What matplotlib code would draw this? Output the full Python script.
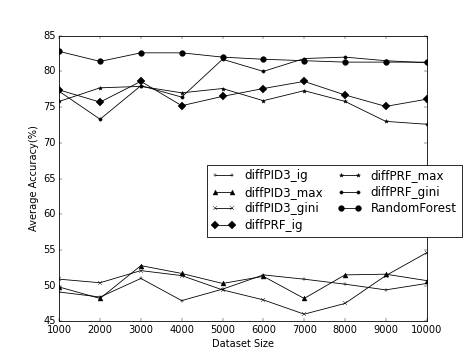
import matplotlib
matplotlib.use("Agg")
from matplotlib import pyplot as plt

sizes = [1000, 2000, 3000, 4000, 5000, 6000, 7000, 8000, 9000, 10000]

pid3_ig = [49.1, 48.4, 51.0, 47.9, 49.5, 51.5, 50.9, 50.2, 49.4, 50.3]
pid3_max = [49.8, 48.2, 52.8, 51.7, 50.3, 51.3, 48.2, 51.5, 51.6, 50.7]
pid3_gini = [50.9, 50.4, 52.1, 51.4, 49.4, 48.0, 46.0, 47.5, 51.4, 54.6]
prf_ig = [77.4, 75.7, 78.6, 75.2, 76.5, 77.6, 78.6, 76.7, 75.1, 76.1]
prf_max = [75.8, 77.7, 77.9, 77.0, 77.6, 75.9, 77.3, 75.8, 73.0, 72.6]
prf_gini = [77.2, 73.3, 78.0, 76.4, 81.7, 80.0, 81.8, 82.0, 81.5, 81.2]
random_forest = [82.8, 81.4, 82.6, 82.6, 82.0, 81.7, 81.5, 81.3, 81.3, 81.3]

plt.style.use("classic")
fig = plt.figure(figsize=(474 / 59.25, 357 / 59.25), dpi=59.25)
ax = fig.add_subplot(111)

ax.plot(sizes, pid3_ig, "k-", marker="+", ms=6, label="diffPID3_ig")
ax.plot(sizes, pid3_max, "k-", marker="^", ms=6, label="diffPID3_max")
ax.plot(sizes, pid3_gini, "k-", marker="x", ms=6, label="diffPID3_gini")
ax.plot(sizes, prf_ig, "k-", marker="D", ms=7, label="diffPRF_ig")
ax.plot(sizes, prf_max, "k-", marker="*", ms=5, label="diffPRF_max")
ax.plot(sizes, prf_gini, "k-", marker="o", ms=4, label="diffPRF_gini")
ax.plot(sizes, random_forest, "k-", marker="o", ms=7, label="RandomForest")

ax.set_xlim(1000, 10000)
ax.set_ylim(45, 85)
ax.set_xticks(sizes)
ax.set_xlabel("Dataset Size")
ax.set_ylabel("Average Accuracy(%)")

ax.legend(ncol=2, numpoints=2, loc="upper left", bbox_to_anchor=(0.402, 0.549),
          borderaxespad=0, fontsize=14.4, handlelength=2, columnspacing=1.2,
          labelspacing=0.3)

fig.savefig("out.png", dpi=59.25)
